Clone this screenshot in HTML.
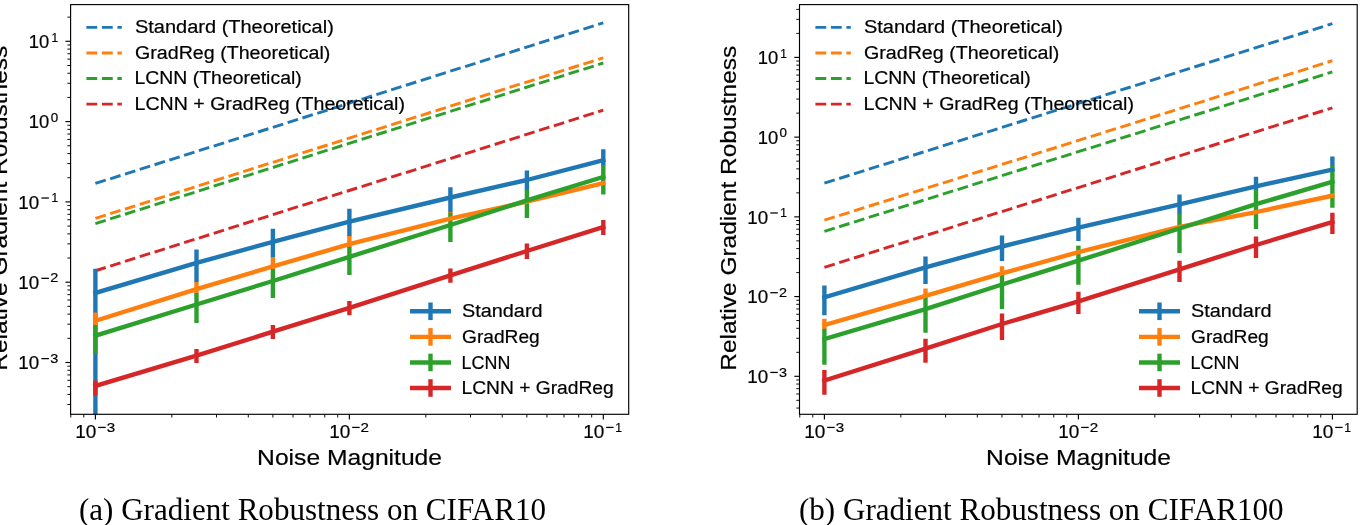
<!DOCTYPE html><html><head><meta charset="utf-8"><title>Gradient Robustness</title><style>html,body{margin:0;padding:0;background:#fff;width:1362px;height:525px;overflow:hidden}svg{display:block;will-change:transform}</style></head><body>
<svg width="1362" height="525" viewBox="0 0 1362 525">
<rect width="1362" height="525" fill="#fff"/>
<defs><clipPath id="c0"><rect x="70.60" y="4.60" width="558.10" height="409.70"/></clipPath></defs>
<g clip-path="url(#c0)"><line x1="95.40" y1="183.45" x2="603.30" y2="22.85" stroke="#1f77b4" stroke-width="2.92" stroke-dasharray="10.83 4.68"/><line x1="95.40" y1="218.40" x2="603.30" y2="57.80" stroke="#ff7f0e" stroke-width="2.92" stroke-dasharray="10.83 4.68"/><line x1="95.40" y1="223.60" x2="603.30" y2="63.00" stroke="#2ca02c" stroke-width="2.92" stroke-dasharray="10.83 4.68"/><line x1="95.40" y1="270.75" x2="603.30" y2="110.15" stroke="#d62728" stroke-width="2.92" stroke-dasharray="10.83 4.68"/><line x1="95.40" y1="268.70" x2="95.40" y2="420.00" stroke="#1f77b4" stroke-width="4.39"/><line x1="196.50" y1="249.60" x2="196.50" y2="282.50" stroke="#1f77b4" stroke-width="4.39"/><line x1="272.90" y1="228.70" x2="272.90" y2="257.50" stroke="#1f77b4" stroke-width="4.39"/><line x1="349.40" y1="208.70" x2="349.40" y2="236.60" stroke="#1f77b4" stroke-width="4.39"/><line x1="450.40" y1="187.30" x2="450.40" y2="212.50" stroke="#1f77b4" stroke-width="4.39"/><line x1="526.90" y1="170.40" x2="526.90" y2="190.20" stroke="#1f77b4" stroke-width="4.39"/><line x1="603.30" y1="149.30" x2="603.30" y2="165.60" stroke="#1f77b4" stroke-width="4.39"/><line x1="95.40" y1="312.50" x2="95.40" y2="326.00" stroke="#ff7f0e" stroke-width="4.39"/><line x1="196.50" y1="281.90" x2="196.50" y2="293.50" stroke="#ff7f0e" stroke-width="4.39"/><line x1="272.90" y1="256.90" x2="272.90" y2="269.60" stroke="#ff7f0e" stroke-width="4.39"/><line x1="349.40" y1="236.10" x2="349.40" y2="247.50" stroke="#ff7f0e" stroke-width="4.39"/><line x1="450.40" y1="212.00" x2="450.40" y2="213.50" stroke="#ff7f0e" stroke-width="4.39"/><line x1="95.40" y1="325.10" x2="95.40" y2="354.10" stroke="#2ca02c" stroke-width="4.39"/><line x1="196.50" y1="293.00" x2="196.50" y2="323.10" stroke="#2ca02c" stroke-width="4.39"/><line x1="272.90" y1="269.10" x2="272.90" y2="298.00" stroke="#2ca02c" stroke-width="4.39"/><line x1="349.40" y1="246.80" x2="349.40" y2="275.10" stroke="#2ca02c" stroke-width="4.39"/><line x1="450.40" y1="212.80" x2="450.40" y2="242.10" stroke="#2ca02c" stroke-width="4.39"/><line x1="526.90" y1="189.70" x2="526.90" y2="217.90" stroke="#2ca02c" stroke-width="4.39"/><line x1="603.30" y1="165.10" x2="603.30" y2="194.40" stroke="#2ca02c" stroke-width="4.39"/><line x1="95.40" y1="380.40" x2="95.40" y2="395.60" stroke="#d62728" stroke-width="4.39"/><line x1="196.50" y1="348.90" x2="196.50" y2="363.10" stroke="#d62728" stroke-width="4.39"/><line x1="272.90" y1="324.90" x2="272.90" y2="339.10" stroke="#d62728" stroke-width="4.39"/><line x1="349.40" y1="301.00" x2="349.40" y2="315.30" stroke="#d62728" stroke-width="4.39"/><line x1="450.40" y1="268.40" x2="450.40" y2="282.70" stroke="#d62728" stroke-width="4.39"/><line x1="526.90" y1="243.60" x2="526.90" y2="259.00" stroke="#d62728" stroke-width="4.39"/><line x1="603.30" y1="219.90" x2="603.30" y2="235.10" stroke="#d62728" stroke-width="4.39"/><polyline points="95.40,292.90 196.50,262.90 272.90,241.80 349.40,221.70 450.40,197.50 526.90,180.00 603.30,160.10" fill="none" stroke="#1f77b4" stroke-width="4.39" stroke-linejoin="round" stroke-linecap="square"/><polyline points="95.40,320.80 196.50,289.20 272.90,266.40 349.40,244.20 450.40,218.70 526.90,201.70 603.30,183.10" fill="none" stroke="#ff7f0e" stroke-width="4.39" stroke-linejoin="round" stroke-linecap="square"/><polyline points="95.40,335.70 196.50,304.50 272.90,281.00 349.40,256.80 450.40,225.00 526.90,200.30 603.30,176.90" fill="none" stroke="#2ca02c" stroke-width="4.39" stroke-linejoin="round" stroke-linecap="square"/><polyline points="95.40,385.90 196.50,355.70 272.90,331.70 349.40,307.90 450.40,275.30 526.90,251.00 603.30,227.10" fill="none" stroke="#d62728" stroke-width="4.39" stroke-linejoin="round" stroke-linecap="square"/></g>
<rect x="70.60" y="4.60" width="558.10" height="409.70" fill="none" stroke="#000" stroke-width="1.14"/>
<line x1="70.79" y1="414.30" x2="70.79" y2="417.50" stroke="#000" stroke-width="0.95"/><line x1="83.78" y1="414.30" x2="83.78" y2="417.50" stroke="#000" stroke-width="0.95"/><line x1="95.40" y1="414.30" x2="95.40" y2="419.50" stroke="#000" stroke-width="1.14"/><line x1="171.85" y1="414.30" x2="171.85" y2="417.50" stroke="#000" stroke-width="0.95"/><line x1="216.56" y1="414.30" x2="216.56" y2="417.50" stroke="#000" stroke-width="0.95"/><line x1="248.29" y1="414.30" x2="248.29" y2="417.50" stroke="#000" stroke-width="0.95"/><line x1="272.90" y1="414.30" x2="272.90" y2="417.50" stroke="#000" stroke-width="0.95"/><line x1="293.01" y1="414.30" x2="293.01" y2="417.50" stroke="#000" stroke-width="0.95"/><line x1="310.01" y1="414.30" x2="310.01" y2="417.50" stroke="#000" stroke-width="0.95"/><line x1="324.74" y1="414.30" x2="324.74" y2="417.50" stroke="#000" stroke-width="0.95"/><line x1="337.73" y1="414.30" x2="337.73" y2="417.50" stroke="#000" stroke-width="0.95"/><line x1="349.35" y1="414.30" x2="349.35" y2="419.50" stroke="#000" stroke-width="1.14"/><line x1="425.80" y1="414.30" x2="425.80" y2="417.50" stroke="#000" stroke-width="0.95"/><line x1="470.51" y1="414.30" x2="470.51" y2="417.50" stroke="#000" stroke-width="0.95"/><line x1="502.24" y1="414.30" x2="502.24" y2="417.50" stroke="#000" stroke-width="0.95"/><line x1="526.85" y1="414.30" x2="526.85" y2="417.50" stroke="#000" stroke-width="0.95"/><line x1="546.96" y1="414.30" x2="546.96" y2="417.50" stroke="#000" stroke-width="0.95"/><line x1="563.96" y1="414.30" x2="563.96" y2="417.50" stroke="#000" stroke-width="0.95"/><line x1="578.69" y1="414.30" x2="578.69" y2="417.50" stroke="#000" stroke-width="0.95"/><line x1="591.68" y1="414.30" x2="591.68" y2="417.50" stroke="#000" stroke-width="0.95"/><line x1="603.30" y1="414.30" x2="603.30" y2="419.50" stroke="#000" stroke-width="1.14"/><line x1="70.60" y1="404.49" x2="67.40" y2="404.49" stroke="#000" stroke-width="0.95"/><line x1="70.60" y1="394.45" x2="67.40" y2="394.45" stroke="#000" stroke-width="0.95"/><line x1="70.60" y1="386.67" x2="67.40" y2="386.67" stroke="#000" stroke-width="0.95"/><line x1="70.60" y1="380.31" x2="67.40" y2="380.31" stroke="#000" stroke-width="0.95"/><line x1="70.60" y1="374.94" x2="67.40" y2="374.94" stroke="#000" stroke-width="0.95"/><line x1="70.60" y1="370.28" x2="67.40" y2="370.28" stroke="#000" stroke-width="0.95"/><line x1="70.60" y1="366.17" x2="67.40" y2="366.17" stroke="#000" stroke-width="0.95"/><line x1="70.60" y1="362.50" x2="65.40" y2="362.50" stroke="#000" stroke-width="1.14"/><line x1="70.60" y1="338.33" x2="67.40" y2="338.33" stroke="#000" stroke-width="0.95"/><line x1="70.60" y1="324.19" x2="67.40" y2="324.19" stroke="#000" stroke-width="0.95"/><line x1="70.60" y1="314.15" x2="67.40" y2="314.15" stroke="#000" stroke-width="0.95"/><line x1="70.60" y1="306.37" x2="67.40" y2="306.37" stroke="#000" stroke-width="0.95"/><line x1="70.60" y1="300.01" x2="67.40" y2="300.01" stroke="#000" stroke-width="0.95"/><line x1="70.60" y1="294.64" x2="67.40" y2="294.64" stroke="#000" stroke-width="0.95"/><line x1="70.60" y1="289.98" x2="67.40" y2="289.98" stroke="#000" stroke-width="0.95"/><line x1="70.60" y1="285.87" x2="67.40" y2="285.87" stroke="#000" stroke-width="0.95"/><line x1="70.60" y1="282.20" x2="65.40" y2="282.20" stroke="#000" stroke-width="1.14"/><line x1="70.60" y1="258.03" x2="67.40" y2="258.03" stroke="#000" stroke-width="0.95"/><line x1="70.60" y1="243.89" x2="67.40" y2="243.89" stroke="#000" stroke-width="0.95"/><line x1="70.60" y1="233.85" x2="67.40" y2="233.85" stroke="#000" stroke-width="0.95"/><line x1="70.60" y1="226.07" x2="67.40" y2="226.07" stroke="#000" stroke-width="0.95"/><line x1="70.60" y1="219.71" x2="67.40" y2="219.71" stroke="#000" stroke-width="0.95"/><line x1="70.60" y1="214.34" x2="67.40" y2="214.34" stroke="#000" stroke-width="0.95"/><line x1="70.60" y1="209.68" x2="67.40" y2="209.68" stroke="#000" stroke-width="0.95"/><line x1="70.60" y1="205.57" x2="67.40" y2="205.57" stroke="#000" stroke-width="0.95"/><line x1="70.60" y1="201.90" x2="65.40" y2="201.90" stroke="#000" stroke-width="1.14"/><line x1="70.60" y1="177.73" x2="67.40" y2="177.73" stroke="#000" stroke-width="0.95"/><line x1="70.60" y1="163.59" x2="67.40" y2="163.59" stroke="#000" stroke-width="0.95"/><line x1="70.60" y1="153.55" x2="67.40" y2="153.55" stroke="#000" stroke-width="0.95"/><line x1="70.60" y1="145.77" x2="67.40" y2="145.77" stroke="#000" stroke-width="0.95"/><line x1="70.60" y1="139.41" x2="67.40" y2="139.41" stroke="#000" stroke-width="0.95"/><line x1="70.60" y1="134.04" x2="67.40" y2="134.04" stroke="#000" stroke-width="0.95"/><line x1="70.60" y1="129.38" x2="67.40" y2="129.38" stroke="#000" stroke-width="0.95"/><line x1="70.60" y1="125.27" x2="67.40" y2="125.27" stroke="#000" stroke-width="0.95"/><line x1="70.60" y1="121.60" x2="65.40" y2="121.60" stroke="#000" stroke-width="1.14"/><line x1="70.60" y1="97.43" x2="67.40" y2="97.43" stroke="#000" stroke-width="0.95"/><line x1="70.60" y1="83.29" x2="67.40" y2="83.29" stroke="#000" stroke-width="0.95"/><line x1="70.60" y1="73.25" x2="67.40" y2="73.25" stroke="#000" stroke-width="0.95"/><line x1="70.60" y1="65.47" x2="67.40" y2="65.47" stroke="#000" stroke-width="0.95"/><line x1="70.60" y1="59.11" x2="67.40" y2="59.11" stroke="#000" stroke-width="0.95"/><line x1="70.60" y1="53.74" x2="67.40" y2="53.74" stroke="#000" stroke-width="0.95"/><line x1="70.60" y1="49.08" x2="67.40" y2="49.08" stroke="#000" stroke-width="0.95"/><line x1="70.60" y1="44.97" x2="67.40" y2="44.97" stroke="#000" stroke-width="0.95"/><line x1="70.60" y1="41.30" x2="65.40" y2="41.30" stroke="#000" stroke-width="1.14"/><line x1="70.60" y1="17.13" x2="67.40" y2="17.13" stroke="#000" stroke-width="0.95"/>
<text x="28.79" y="48.10" font-family='"Liberation Sans", sans-serif' font-size="18.3" textLength="20.45" lengthAdjust="spacingAndGlyphs" fill="#000" stroke="#000" stroke-width="0.2">10</text><text x="51.44" y="41.50" font-family='"Liberation Sans", sans-serif' font-size="12.4" textLength="6.63" lengthAdjust="spacingAndGlyphs" fill="#000" stroke="#000" stroke-width="0.2">1</text>
<text x="28.79" y="128.40" font-family='"Liberation Sans", sans-serif' font-size="18.3" textLength="20.45" lengthAdjust="spacingAndGlyphs" fill="#000" stroke="#000" stroke-width="0.2">10</text><text x="50.72" y="121.80" font-family='"Liberation Sans", sans-serif' font-size="12.4" textLength="7.46" lengthAdjust="spacingAndGlyphs" fill="#000" stroke="#000" stroke-width="0.2">0</text>
<text x="18.37" y="208.70" font-family='"Liberation Sans", sans-serif' font-size="18.3" textLength="20.88" lengthAdjust="spacingAndGlyphs" fill="#000" stroke="#000" stroke-width="0.2">10</text><rect x="41.40" y="197.40" width="7.5" height="1.25" fill="#000"/><text x="51.44" y="202.10" font-family='"Liberation Sans", sans-serif' font-size="12.4" textLength="6.63" lengthAdjust="spacingAndGlyphs" fill="#000" stroke="#000" stroke-width="0.2">1</text>
<text x="18.37" y="289.00" font-family='"Liberation Sans", sans-serif' font-size="18.3" textLength="20.88" lengthAdjust="spacingAndGlyphs" fill="#000" stroke="#000" stroke-width="0.2">10</text><rect x="41.40" y="277.70" width="7.5" height="1.25" fill="#000"/><text x="50.24" y="282.40" font-family='"Liberation Sans", sans-serif' font-size="12.4" textLength="8.01" lengthAdjust="spacingAndGlyphs" fill="#000" stroke="#000" stroke-width="0.2">2</text>
<text x="18.37" y="369.30" font-family='"Liberation Sans", sans-serif' font-size="18.3" textLength="20.88" lengthAdjust="spacingAndGlyphs" fill="#000" stroke="#000" stroke-width="0.2">10</text><rect x="41.40" y="358.00" width="7.5" height="1.25" fill="#000"/><text x="50.24" y="362.70" font-family='"Liberation Sans", sans-serif' font-size="12.4" textLength="8.01" lengthAdjust="spacingAndGlyphs" fill="#000" stroke="#000" stroke-width="0.2">3</text>
<text x="75.26" y="438.40" font-family='"Liberation Sans", sans-serif' font-size="18.3" textLength="21.09" lengthAdjust="spacingAndGlyphs" fill="#000" stroke="#000" stroke-width="0.2">10</text><rect x="98.20" y="426.80" width="7.5" height="1.25" fill="#000"/><text x="106.68" y="431.90" font-family='"Liberation Sans", sans-serif' font-size="12.4" textLength="8.43" lengthAdjust="spacingAndGlyphs" fill="#000" stroke="#000" stroke-width="0.2">3</text>
<text x="329.21" y="438.40" font-family='"Liberation Sans", sans-serif' font-size="18.3" textLength="21.09" lengthAdjust="spacingAndGlyphs" fill="#000" stroke="#000" stroke-width="0.2">10</text><rect x="352.15" y="426.80" width="7.5" height="1.25" fill="#000"/><text x="360.63" y="431.90" font-family='"Liberation Sans", sans-serif' font-size="12.4" textLength="8.43" lengthAdjust="spacingAndGlyphs" fill="#000" stroke="#000" stroke-width="0.2">2</text>
<text x="583.16" y="438.40" font-family='"Liberation Sans", sans-serif' font-size="18.3" textLength="21.09" lengthAdjust="spacingAndGlyphs" fill="#000" stroke="#000" stroke-width="0.2">10</text><rect x="606.10" y="426.80" width="7.5" height="1.25" fill="#000"/><text x="615.22" y="431.90" font-family='"Liberation Sans", sans-serif' font-size="12.4" textLength="6.77" lengthAdjust="spacingAndGlyphs" fill="#000" stroke="#000" stroke-width="0.2">1</text>
<text x="257.10" y="464.70" font-family='"Liberation Sans", sans-serif' font-size="22.4" textLength="184.94" lengthAdjust="spacingAndGlyphs" fill="#000" stroke="#000" stroke-width="0.2">Noise Magnitude</text>
<text transform="translate(7.30,368.60) rotate(-90)" x="-2.19" y="0" font-family='"Liberation Sans", sans-serif' font-size="22.4" textLength="325.08" lengthAdjust="spacingAndGlyphs" fill="#000" stroke="#000" stroke-width="0.2">Relative Gradient Robustness</text>
<line x1="86.40" y1="27.40" x2="121.80" y2="27.40" stroke="#1f77b4" stroke-width="2.92" stroke-dasharray="10.83 4.68"/>
<text x="134.99" y="33.30" font-family='"Liberation Sans", sans-serif' font-size="18.0" textLength="198.82" lengthAdjust="spacingAndGlyphs" fill="#000" stroke="#000" stroke-width="0.2">Standard (Theoretical)</text>
<line x1="86.40" y1="52.97" x2="121.80" y2="52.97" stroke="#ff7f0e" stroke-width="2.92" stroke-dasharray="10.83 4.68"/>
<text x="135.01" y="58.87" font-family='"Liberation Sans", sans-serif' font-size="18.0" textLength="195.37" lengthAdjust="spacingAndGlyphs" fill="#000" stroke="#000" stroke-width="0.2">GradReg (Theoretical)</text>
<line x1="86.40" y1="78.54" x2="121.80" y2="78.54" stroke="#2ca02c" stroke-width="2.92" stroke-dasharray="10.83 4.68"/>
<text x="134.54" y="84.44" font-family='"Liberation Sans", sans-serif' font-size="18.0" textLength="167.19" lengthAdjust="spacingAndGlyphs" fill="#000" stroke="#000" stroke-width="0.2">LCNN (Theoretical)</text>
<line x1="86.40" y1="104.11" x2="121.80" y2="104.11" stroke="#d62728" stroke-width="2.92" stroke-dasharray="10.83 4.68"/>
<text x="134.52" y="110.01" font-family='"Liberation Sans", sans-serif' font-size="18.0" textLength="270.41" lengthAdjust="spacingAndGlyphs" fill="#000" stroke="#000" stroke-width="0.2">LCNN + GradReg (Theoretical)</text>
<line x1="412.20" y1="311.30" x2="448.80" y2="311.30" stroke="#1f77b4" stroke-width="4.39" stroke-linecap="square"/>
<line x1="430.50" y1="302.50" x2="430.50" y2="320.10" stroke="#1f77b4" stroke-width="4.39"/>
<text x="462.00" y="317.40" font-family='"Liberation Sans", sans-serif' font-size="18.0" textLength="80.57" lengthAdjust="spacingAndGlyphs" fill="#000" stroke="#000" stroke-width="0.2">Standard</text>
<line x1="412.20" y1="336.87" x2="448.80" y2="336.87" stroke="#ff7f0e" stroke-width="4.39" stroke-linecap="square"/>
<line x1="430.50" y1="328.07" x2="430.50" y2="345.67" stroke="#ff7f0e" stroke-width="4.39"/>
<text x="462.04" y="342.97" font-family='"Liberation Sans", sans-serif' font-size="18.0" textLength="77.68" lengthAdjust="spacingAndGlyphs" fill="#000" stroke="#000" stroke-width="0.2">GradReg</text>
<line x1="412.20" y1="362.44" x2="448.80" y2="362.44" stroke="#2ca02c" stroke-width="4.39" stroke-linecap="square"/>
<line x1="430.50" y1="353.64" x2="430.50" y2="371.24" stroke="#2ca02c" stroke-width="4.39"/>
<text x="461.61" y="368.54" font-family='"Liberation Sans", sans-serif' font-size="18.0" textLength="48.70" lengthAdjust="spacingAndGlyphs" fill="#000" stroke="#000" stroke-width="0.2">LCNN</text>
<line x1="412.20" y1="388.01" x2="448.80" y2="388.01" stroke="#d62728" stroke-width="4.39" stroke-linecap="square"/>
<line x1="430.50" y1="379.21" x2="430.50" y2="396.81" stroke="#d62728" stroke-width="4.39"/>
<text x="461.46" y="394.11" font-family='"Liberation Sans", sans-serif' font-size="18.0" textLength="152.31" lengthAdjust="spacingAndGlyphs" fill="#000" stroke="#000" stroke-width="0.2">LCNN + GradReg</text>
<text x="78.93" y="519.50" font-family='"Liberation Serif", serif' font-size="32" textLength="467.18" lengthAdjust="spacingAndGlyphs" fill="#000" >(a) Gradient Robustness on CIFAR10</text>
<defs><clipPath id="c1"><rect x="799.50" y="4.60" width="557.70" height="409.70"/></clipPath></defs>
<g clip-path="url(#c1)"><line x1="824.40" y1="183.13" x2="1332.40" y2="23.67" stroke="#1f77b4" stroke-width="2.92" stroke-dasharray="10.83 4.68"/><line x1="824.40" y1="220.18" x2="1332.40" y2="60.72" stroke="#ff7f0e" stroke-width="2.92" stroke-dasharray="10.83 4.68"/><line x1="824.40" y1="231.38" x2="1332.40" y2="71.92" stroke="#2ca02c" stroke-width="2.92" stroke-dasharray="10.83 4.68"/><line x1="824.40" y1="267.28" x2="1332.40" y2="107.82" stroke="#d62728" stroke-width="2.92" stroke-dasharray="10.83 4.68"/><line x1="824.40" y1="285.60" x2="824.40" y2="315.30" stroke="#1f77b4" stroke-width="4.39"/><line x1="925.50" y1="256.40" x2="925.50" y2="284.00" stroke="#1f77b4" stroke-width="4.39"/><line x1="1002.00" y1="235.40" x2="1002.00" y2="261.00" stroke="#1f77b4" stroke-width="4.39"/><line x1="1078.40" y1="217.70" x2="1078.40" y2="241.00" stroke="#1f77b4" stroke-width="4.39"/><line x1="1179.50" y1="194.60" x2="1179.50" y2="214.80" stroke="#1f77b4" stroke-width="4.39"/><line x1="1256.00" y1="176.70" x2="1256.00" y2="190.80" stroke="#1f77b4" stroke-width="4.39"/><line x1="1332.40" y1="156.40" x2="1332.40" y2="166.10" stroke="#1f77b4" stroke-width="4.39"/><line x1="824.40" y1="318.70" x2="824.40" y2="329.20" stroke="#ff7f0e" stroke-width="4.39"/><line x1="925.50" y1="288.40" x2="925.50" y2="297.80" stroke="#ff7f0e" stroke-width="4.39"/><line x1="1002.00" y1="266.30" x2="1002.00" y2="276.20" stroke="#ff7f0e" stroke-width="4.39"/><line x1="1078.40" y1="245.70" x2="1078.40" y2="246.20" stroke="#ff7f0e" stroke-width="4.39"/><line x1="824.40" y1="328.70" x2="824.40" y2="364.70" stroke="#2ca02c" stroke-width="4.39"/><line x1="925.50" y1="297.30" x2="925.50" y2="332.70" stroke="#2ca02c" stroke-width="4.39"/><line x1="1002.00" y1="274.00" x2="1002.00" y2="309.10" stroke="#2ca02c" stroke-width="4.39"/><line x1="1078.40" y1="245.70" x2="1078.40" y2="284.70" stroke="#2ca02c" stroke-width="4.39"/><line x1="1179.50" y1="214.30" x2="1179.50" y2="253.00" stroke="#2ca02c" stroke-width="4.39"/><line x1="1256.00" y1="190.30" x2="1256.00" y2="229.00" stroke="#2ca02c" stroke-width="4.39"/><line x1="1332.40" y1="165.60" x2="1332.40" y2="207.80" stroke="#2ca02c" stroke-width="4.39"/><line x1="824.40" y1="370.00" x2="824.40" y2="394.70" stroke="#d62728" stroke-width="4.39"/><line x1="925.50" y1="338.70" x2="925.50" y2="362.70" stroke="#d62728" stroke-width="4.39"/><line x1="1002.00" y1="313.60" x2="1002.00" y2="340.00" stroke="#d62728" stroke-width="4.39"/><line x1="1078.40" y1="291.70" x2="1078.40" y2="314.00" stroke="#d62728" stroke-width="4.39"/><line x1="1179.50" y1="260.70" x2="1179.50" y2="282.00" stroke="#d62728" stroke-width="4.39"/><line x1="1256.00" y1="236.60" x2="1256.00" y2="257.90" stroke="#d62728" stroke-width="4.39"/><line x1="1332.40" y1="212.70" x2="1332.40" y2="233.90" stroke="#d62728" stroke-width="4.39"/><polyline points="824.40,297.30 925.50,267.30 1002.00,246.50 1078.40,227.70 1179.50,204.30 1256.00,186.30 1332.40,169.60" fill="none" stroke="#1f77b4" stroke-width="4.39" stroke-linejoin="round" stroke-linecap="square"/><polyline points="824.40,325.00 925.50,295.80 1002.00,273.40 1078.40,252.20 1179.50,226.90 1256.00,212.10 1332.40,195.70" fill="none" stroke="#ff7f0e" stroke-width="4.39" stroke-linejoin="round" stroke-linecap="square"/><polyline points="824.40,339.10 925.50,309.20 1002.00,284.50 1078.40,260.70 1179.50,228.50 1256.00,204.20 1332.40,181.80" fill="none" stroke="#2ca02c" stroke-width="4.39" stroke-linejoin="round" stroke-linecap="square"/><polyline points="824.40,380.60 925.50,348.70 1002.00,324.00 1078.40,301.30 1179.50,269.30 1256.00,245.00 1332.40,222.10" fill="none" stroke="#d62728" stroke-width="4.39" stroke-linejoin="round" stroke-linecap="square"/></g>
<rect x="799.50" y="4.60" width="557.70" height="409.70" fill="none" stroke="#000" stroke-width="1.14"/>
<line x1="799.78" y1="414.30" x2="799.78" y2="417.50" stroke="#000" stroke-width="0.95"/><line x1="812.78" y1="414.30" x2="812.78" y2="417.50" stroke="#000" stroke-width="0.95"/><line x1="824.40" y1="414.30" x2="824.40" y2="419.50" stroke="#000" stroke-width="1.14"/><line x1="900.86" y1="414.30" x2="900.86" y2="417.50" stroke="#000" stroke-width="0.95"/><line x1="945.59" y1="414.30" x2="945.59" y2="417.50" stroke="#000" stroke-width="0.95"/><line x1="977.32" y1="414.30" x2="977.32" y2="417.50" stroke="#000" stroke-width="0.95"/><line x1="1001.94" y1="414.30" x2="1001.94" y2="417.50" stroke="#000" stroke-width="0.95"/><line x1="1022.05" y1="414.30" x2="1022.05" y2="417.50" stroke="#000" stroke-width="0.95"/><line x1="1039.05" y1="414.30" x2="1039.05" y2="417.50" stroke="#000" stroke-width="0.95"/><line x1="1053.78" y1="414.30" x2="1053.78" y2="417.50" stroke="#000" stroke-width="0.95"/><line x1="1066.78" y1="414.30" x2="1066.78" y2="417.50" stroke="#000" stroke-width="0.95"/><line x1="1078.40" y1="414.30" x2="1078.40" y2="419.50" stroke="#000" stroke-width="1.14"/><line x1="1154.86" y1="414.30" x2="1154.86" y2="417.50" stroke="#000" stroke-width="0.95"/><line x1="1199.59" y1="414.30" x2="1199.59" y2="417.50" stroke="#000" stroke-width="0.95"/><line x1="1231.32" y1="414.30" x2="1231.32" y2="417.50" stroke="#000" stroke-width="0.95"/><line x1="1255.94" y1="414.30" x2="1255.94" y2="417.50" stroke="#000" stroke-width="0.95"/><line x1="1276.05" y1="414.30" x2="1276.05" y2="417.50" stroke="#000" stroke-width="0.95"/><line x1="1293.05" y1="414.30" x2="1293.05" y2="417.50" stroke="#000" stroke-width="0.95"/><line x1="1307.78" y1="414.30" x2="1307.78" y2="417.50" stroke="#000" stroke-width="0.95"/><line x1="1320.78" y1="414.30" x2="1320.78" y2="417.50" stroke="#000" stroke-width="0.95"/><line x1="1332.40" y1="414.30" x2="1332.40" y2="419.50" stroke="#000" stroke-width="1.14"/><line x1="799.50" y1="408.05" x2="796.30" y2="408.05" stroke="#000" stroke-width="0.95"/><line x1="799.50" y1="400.32" x2="796.30" y2="400.32" stroke="#000" stroke-width="0.95"/><line x1="799.50" y1="394.01" x2="796.30" y2="394.01" stroke="#000" stroke-width="0.95"/><line x1="799.50" y1="388.67" x2="796.30" y2="388.67" stroke="#000" stroke-width="0.95"/><line x1="799.50" y1="384.05" x2="796.30" y2="384.05" stroke="#000" stroke-width="0.95"/><line x1="799.50" y1="379.97" x2="796.30" y2="379.97" stroke="#000" stroke-width="0.95"/><line x1="799.50" y1="376.32" x2="794.30" y2="376.32" stroke="#000" stroke-width="1.14"/><line x1="799.50" y1="352.32" x2="796.30" y2="352.32" stroke="#000" stroke-width="0.95"/><line x1="799.50" y1="338.28" x2="796.30" y2="338.28" stroke="#000" stroke-width="0.95"/><line x1="799.50" y1="328.32" x2="796.30" y2="328.32" stroke="#000" stroke-width="0.95"/><line x1="799.50" y1="320.59" x2="796.30" y2="320.59" stroke="#000" stroke-width="0.95"/><line x1="799.50" y1="314.28" x2="796.30" y2="314.28" stroke="#000" stroke-width="0.95"/><line x1="799.50" y1="308.94" x2="796.30" y2="308.94" stroke="#000" stroke-width="0.95"/><line x1="799.50" y1="304.32" x2="796.30" y2="304.32" stroke="#000" stroke-width="0.95"/><line x1="799.50" y1="300.24" x2="796.30" y2="300.24" stroke="#000" stroke-width="0.95"/><line x1="799.50" y1="296.59" x2="794.30" y2="296.59" stroke="#000" stroke-width="1.14"/><line x1="799.50" y1="272.59" x2="796.30" y2="272.59" stroke="#000" stroke-width="0.95"/><line x1="799.50" y1="258.55" x2="796.30" y2="258.55" stroke="#000" stroke-width="0.95"/><line x1="799.50" y1="248.59" x2="796.30" y2="248.59" stroke="#000" stroke-width="0.95"/><line x1="799.50" y1="240.86" x2="796.30" y2="240.86" stroke="#000" stroke-width="0.95"/><line x1="799.50" y1="234.55" x2="796.30" y2="234.55" stroke="#000" stroke-width="0.95"/><line x1="799.50" y1="229.21" x2="796.30" y2="229.21" stroke="#000" stroke-width="0.95"/><line x1="799.50" y1="224.59" x2="796.30" y2="224.59" stroke="#000" stroke-width="0.95"/><line x1="799.50" y1="220.51" x2="796.30" y2="220.51" stroke="#000" stroke-width="0.95"/><line x1="799.50" y1="216.86" x2="794.30" y2="216.86" stroke="#000" stroke-width="1.14"/><line x1="799.50" y1="192.86" x2="796.30" y2="192.86" stroke="#000" stroke-width="0.95"/><line x1="799.50" y1="178.82" x2="796.30" y2="178.82" stroke="#000" stroke-width="0.95"/><line x1="799.50" y1="168.86" x2="796.30" y2="168.86" stroke="#000" stroke-width="0.95"/><line x1="799.50" y1="161.13" x2="796.30" y2="161.13" stroke="#000" stroke-width="0.95"/><line x1="799.50" y1="154.82" x2="796.30" y2="154.82" stroke="#000" stroke-width="0.95"/><line x1="799.50" y1="149.48" x2="796.30" y2="149.48" stroke="#000" stroke-width="0.95"/><line x1="799.50" y1="144.86" x2="796.30" y2="144.86" stroke="#000" stroke-width="0.95"/><line x1="799.50" y1="140.78" x2="796.30" y2="140.78" stroke="#000" stroke-width="0.95"/><line x1="799.50" y1="137.13" x2="794.30" y2="137.13" stroke="#000" stroke-width="1.14"/><line x1="799.50" y1="113.13" x2="796.30" y2="113.13" stroke="#000" stroke-width="0.95"/><line x1="799.50" y1="99.09" x2="796.30" y2="99.09" stroke="#000" stroke-width="0.95"/><line x1="799.50" y1="89.13" x2="796.30" y2="89.13" stroke="#000" stroke-width="0.95"/><line x1="799.50" y1="81.40" x2="796.30" y2="81.40" stroke="#000" stroke-width="0.95"/><line x1="799.50" y1="75.09" x2="796.30" y2="75.09" stroke="#000" stroke-width="0.95"/><line x1="799.50" y1="69.75" x2="796.30" y2="69.75" stroke="#000" stroke-width="0.95"/><line x1="799.50" y1="65.13" x2="796.30" y2="65.13" stroke="#000" stroke-width="0.95"/><line x1="799.50" y1="61.05" x2="796.30" y2="61.05" stroke="#000" stroke-width="0.95"/><line x1="799.50" y1="57.40" x2="794.30" y2="57.40" stroke="#000" stroke-width="1.14"/><line x1="799.50" y1="33.40" x2="796.30" y2="33.40" stroke="#000" stroke-width="0.95"/><line x1="799.50" y1="19.36" x2="796.30" y2="19.36" stroke="#000" stroke-width="0.95"/><line x1="799.50" y1="9.40" x2="796.30" y2="9.40" stroke="#000" stroke-width="0.95"/>
<text x="757.69" y="64.20" font-family='"Liberation Sans", sans-serif' font-size="18.3" textLength="20.45" lengthAdjust="spacingAndGlyphs" fill="#000" stroke="#000" stroke-width="0.2">10</text><text x="780.34" y="57.60" font-family='"Liberation Sans", sans-serif' font-size="12.4" textLength="6.63" lengthAdjust="spacingAndGlyphs" fill="#000" stroke="#000" stroke-width="0.2">1</text>
<text x="757.69" y="143.93" font-family='"Liberation Sans", sans-serif' font-size="18.3" textLength="20.45" lengthAdjust="spacingAndGlyphs" fill="#000" stroke="#000" stroke-width="0.2">10</text><text x="779.62" y="137.33" font-family='"Liberation Sans", sans-serif' font-size="12.4" textLength="7.46" lengthAdjust="spacingAndGlyphs" fill="#000" stroke="#000" stroke-width="0.2">0</text>
<text x="747.27" y="223.66" font-family='"Liberation Sans", sans-serif' font-size="18.3" textLength="20.88" lengthAdjust="spacingAndGlyphs" fill="#000" stroke="#000" stroke-width="0.2">10</text><rect x="770.30" y="212.36" width="7.5" height="1.25" fill="#000"/><text x="780.34" y="217.06" font-family='"Liberation Sans", sans-serif' font-size="12.4" textLength="6.63" lengthAdjust="spacingAndGlyphs" fill="#000" stroke="#000" stroke-width="0.2">1</text>
<text x="747.27" y="303.39" font-family='"Liberation Sans", sans-serif' font-size="18.3" textLength="20.88" lengthAdjust="spacingAndGlyphs" fill="#000" stroke="#000" stroke-width="0.2">10</text><rect x="770.30" y="292.09" width="7.5" height="1.25" fill="#000"/><text x="779.14" y="296.79" font-family='"Liberation Sans", sans-serif' font-size="12.4" textLength="8.01" lengthAdjust="spacingAndGlyphs" fill="#000" stroke="#000" stroke-width="0.2">2</text>
<text x="747.27" y="383.12" font-family='"Liberation Sans", sans-serif' font-size="18.3" textLength="20.88" lengthAdjust="spacingAndGlyphs" fill="#000" stroke="#000" stroke-width="0.2">10</text><rect x="770.30" y="371.82" width="7.5" height="1.25" fill="#000"/><text x="779.14" y="376.52" font-family='"Liberation Sans", sans-serif' font-size="12.4" textLength="8.01" lengthAdjust="spacingAndGlyphs" fill="#000" stroke="#000" stroke-width="0.2">3</text>
<text x="804.26" y="438.40" font-family='"Liberation Sans", sans-serif' font-size="18.3" textLength="21.09" lengthAdjust="spacingAndGlyphs" fill="#000" stroke="#000" stroke-width="0.2">10</text><rect x="827.20" y="426.80" width="7.5" height="1.25" fill="#000"/><text x="835.68" y="431.90" font-family='"Liberation Sans", sans-serif' font-size="12.4" textLength="8.43" lengthAdjust="spacingAndGlyphs" fill="#000" stroke="#000" stroke-width="0.2">3</text>
<text x="1058.26" y="438.40" font-family='"Liberation Sans", sans-serif' font-size="18.3" textLength="21.09" lengthAdjust="spacingAndGlyphs" fill="#000" stroke="#000" stroke-width="0.2">10</text><rect x="1081.20" y="426.80" width="7.5" height="1.25" fill="#000"/><text x="1089.68" y="431.90" font-family='"Liberation Sans", sans-serif' font-size="12.4" textLength="8.43" lengthAdjust="spacingAndGlyphs" fill="#000" stroke="#000" stroke-width="0.2">2</text>
<text x="1312.26" y="438.40" font-family='"Liberation Sans", sans-serif' font-size="18.3" textLength="21.09" lengthAdjust="spacingAndGlyphs" fill="#000" stroke="#000" stroke-width="0.2">10</text><rect x="1335.20" y="426.80" width="7.5" height="1.25" fill="#000"/><text x="1344.32" y="431.90" font-family='"Liberation Sans", sans-serif' font-size="12.4" textLength="6.77" lengthAdjust="spacingAndGlyphs" fill="#000" stroke="#000" stroke-width="0.2">1</text>
<text x="986.10" y="464.70" font-family='"Liberation Sans", sans-serif' font-size="22.4" textLength="184.94" lengthAdjust="spacingAndGlyphs" fill="#000" stroke="#000" stroke-width="0.2">Noise Magnitude</text>
<text transform="translate(736.30,368.60) rotate(-90)" x="-2.19" y="0" font-family='"Liberation Sans", sans-serif' font-size="22.4" textLength="325.08" lengthAdjust="spacingAndGlyphs" fill="#000" stroke="#000" stroke-width="0.2">Relative Gradient Robustness</text>
<line x1="815.40" y1="27.40" x2="850.80" y2="27.40" stroke="#1f77b4" stroke-width="2.92" stroke-dasharray="10.83 4.68"/>
<text x="863.99" y="33.30" font-family='"Liberation Sans", sans-serif' font-size="18.0" textLength="198.82" lengthAdjust="spacingAndGlyphs" fill="#000" stroke="#000" stroke-width="0.2">Standard (Theoretical)</text>
<line x1="815.40" y1="52.97" x2="850.80" y2="52.97" stroke="#ff7f0e" stroke-width="2.92" stroke-dasharray="10.83 4.68"/>
<text x="864.01" y="58.87" font-family='"Liberation Sans", sans-serif' font-size="18.0" textLength="195.37" lengthAdjust="spacingAndGlyphs" fill="#000" stroke="#000" stroke-width="0.2">GradReg (Theoretical)</text>
<line x1="815.40" y1="78.54" x2="850.80" y2="78.54" stroke="#2ca02c" stroke-width="2.92" stroke-dasharray="10.83 4.68"/>
<text x="863.54" y="84.44" font-family='"Liberation Sans", sans-serif' font-size="18.0" textLength="167.19" lengthAdjust="spacingAndGlyphs" fill="#000" stroke="#000" stroke-width="0.2">LCNN (Theoretical)</text>
<line x1="815.40" y1="104.11" x2="850.80" y2="104.11" stroke="#d62728" stroke-width="2.92" stroke-dasharray="10.83 4.68"/>
<text x="863.52" y="110.01" font-family='"Liberation Sans", sans-serif' font-size="18.0" textLength="270.41" lengthAdjust="spacingAndGlyphs" fill="#000" stroke="#000" stroke-width="0.2">LCNN + GradReg (Theoretical)</text>
<line x1="1141.20" y1="311.30" x2="1177.80" y2="311.30" stroke="#1f77b4" stroke-width="4.39" stroke-linecap="square"/>
<line x1="1159.50" y1="302.50" x2="1159.50" y2="320.10" stroke="#1f77b4" stroke-width="4.39"/>
<text x="1191.00" y="317.40" font-family='"Liberation Sans", sans-serif' font-size="18.0" textLength="80.57" lengthAdjust="spacingAndGlyphs" fill="#000" stroke="#000" stroke-width="0.2">Standard</text>
<line x1="1141.20" y1="336.87" x2="1177.80" y2="336.87" stroke="#ff7f0e" stroke-width="4.39" stroke-linecap="square"/>
<line x1="1159.50" y1="328.07" x2="1159.50" y2="345.67" stroke="#ff7f0e" stroke-width="4.39"/>
<text x="1191.04" y="342.97" font-family='"Liberation Sans", sans-serif' font-size="18.0" textLength="77.68" lengthAdjust="spacingAndGlyphs" fill="#000" stroke="#000" stroke-width="0.2">GradReg</text>
<line x1="1141.20" y1="362.44" x2="1177.80" y2="362.44" stroke="#2ca02c" stroke-width="4.39" stroke-linecap="square"/>
<line x1="1159.50" y1="353.64" x2="1159.50" y2="371.24" stroke="#2ca02c" stroke-width="4.39"/>
<text x="1190.61" y="368.54" font-family='"Liberation Sans", sans-serif' font-size="18.0" textLength="48.70" lengthAdjust="spacingAndGlyphs" fill="#000" stroke="#000" stroke-width="0.2">LCNN</text>
<line x1="1141.20" y1="388.01" x2="1177.80" y2="388.01" stroke="#d62728" stroke-width="4.39" stroke-linecap="square"/>
<line x1="1159.50" y1="379.21" x2="1159.50" y2="396.81" stroke="#d62728" stroke-width="4.39"/>
<text x="1190.46" y="394.11" font-family='"Liberation Sans", sans-serif' font-size="18.0" textLength="152.31" lengthAdjust="spacingAndGlyphs" fill="#000" stroke="#000" stroke-width="0.2">LCNN + GradReg</text>
<text x="798.93" y="519.50" font-family='"Liberation Serif", serif' font-size="32" textLength="484.58" lengthAdjust="spacingAndGlyphs" fill="#000" >(b) Gradient Robustness on CIFAR100</text>
</svg></body></html>
